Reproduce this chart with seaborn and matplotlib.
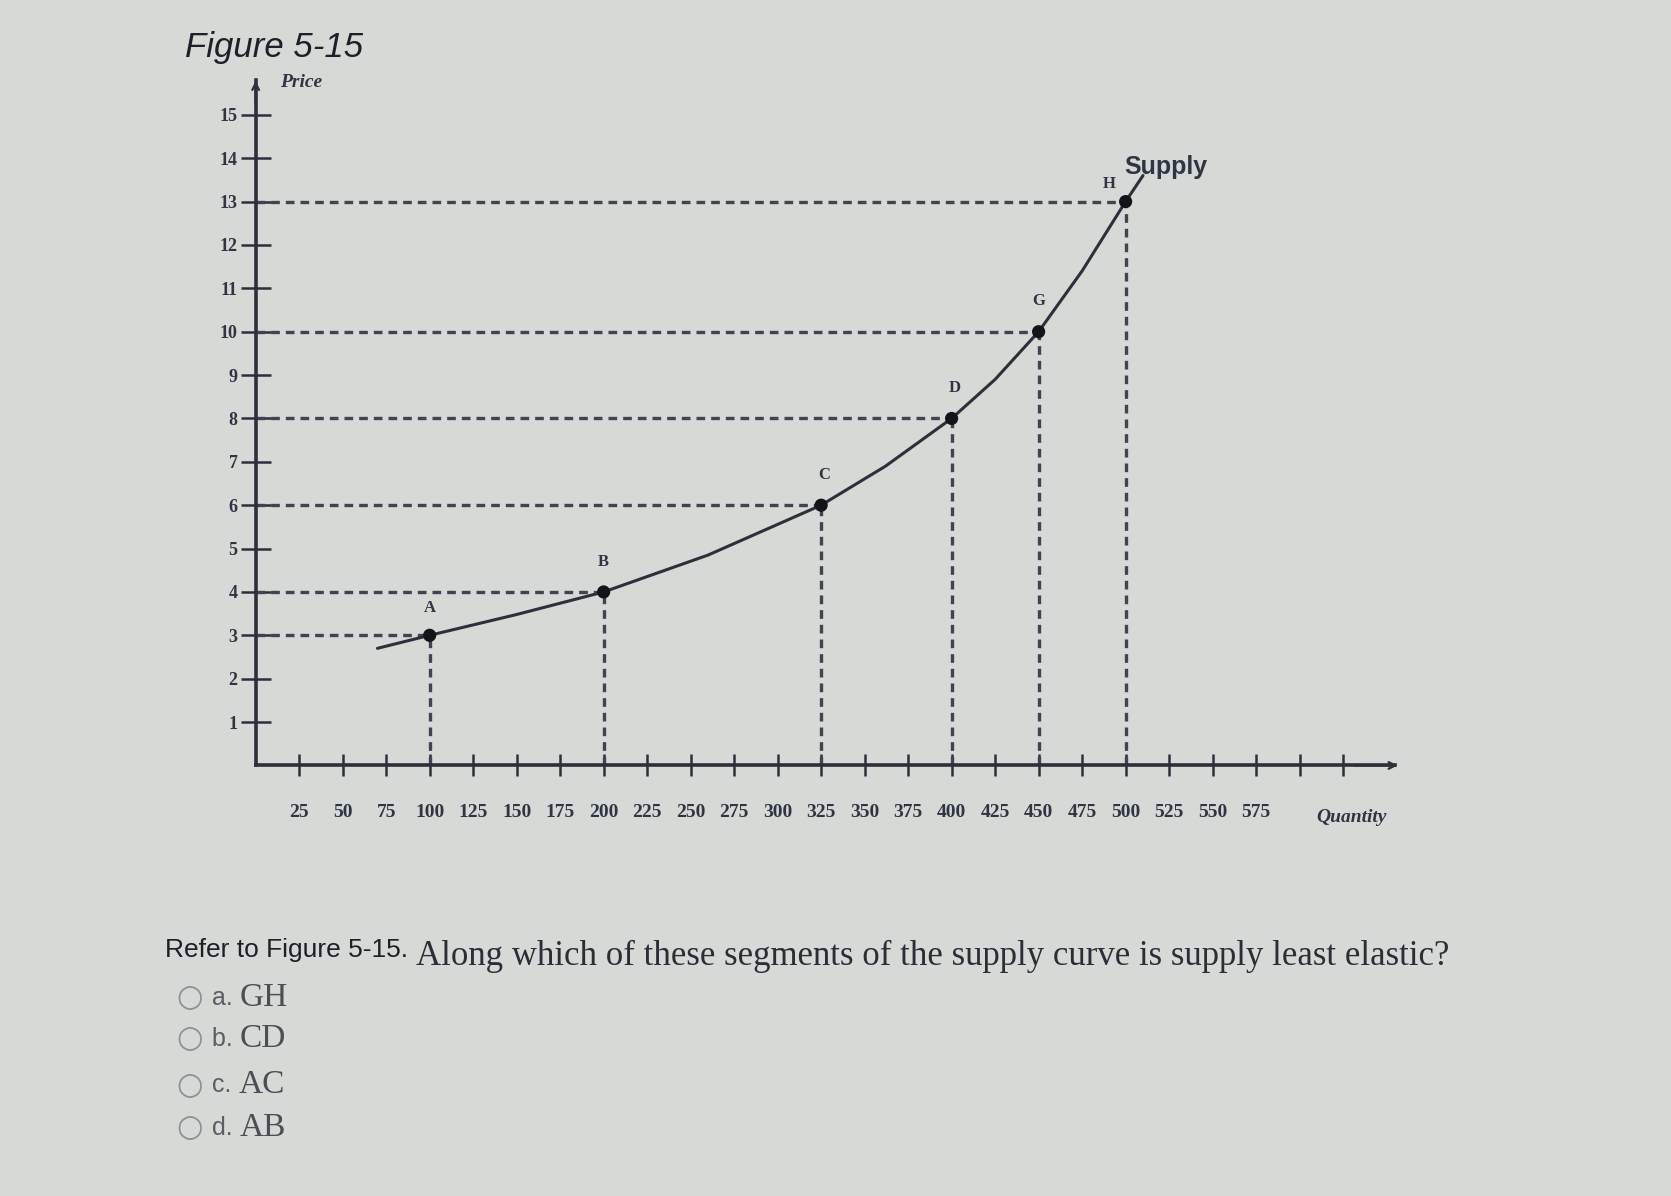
import matplotlib
matplotlib.use("Agg")
import matplotlib.pyplot as plt
import seaborn as sns
import pandas as pd

sns.set_theme(style="white")
plt.rcParams['font.family'] = ['DejaVu Sans']

# points on the supply curve
point_names = ['A', 'B', 'C', 'D', 'G', 'H']
point_qty = [100, 200, 325, 400, 450, 500]
point_price = [3, 4, 6, 8, 10, 13]

# supply curve (ends + a few read points between the dots)
curve_qty = [70, 100, 150, 200, 260, 325, 362, 400, 425, 450, 475, 500, 510]
curve_price = [2.7, 3, 3.48, 4, 4.85, 6, 6.9, 8, 8.9, 10, 11.4, 13, 13.6]

x_ticks = list(range(25, 650, 25))
x_labels = [str(v) for v in range(25, 600, 25)] + ['', '']
y_ticks = list(range(1, 16))

options = ['a. ', 'b. ', 'c. ', 'd. ']
option_answers = ['GH', 'CD', 'AC', 'AB']

bg = '#d6d9d5'
ink = '#2b303b'

fig = plt.figure(figsize=(16.71, 11.96), dpi=100, facecolor=bg)
ax = fig.add_axes([0.153, 0.360, 0.682, 0.573])
ax.set_facecolor(bg)

pts = pd.DataFrame({'name': point_names, 'q': point_qty, 'p': point_price})
curve = pd.DataFrame({'q': curve_qty, 'p': curve_price})

# guide lines
dash = (0, (2.6, 1.8))
ax.hlines(pts['p'], 0, pts['q'], colors='#3d4452', linestyles=[dash], lw=2.4, zorder=1)
ax.vlines(pts['q'], 0, pts['p'], colors='#3d4452', linestyles=[dash], lw=2.4, zorder=1)

sns.lineplot(data=curve, x='q', y='p', sort=False, color=ink, lw=2.2, ax=ax, zorder=2)
sns.scatterplot(data=pts, x='q', y='p', color='#111418', s=90, edgecolor='none', ax=ax, zorder=3)

label_offsets = {'A': (0, 14), 'B': (0, 16), 'C': (2, 16), 'D': (2, 16), 'G': (0, 16), 'H': (-12, 7)}
for _, r in pts.iterrows():
    ax.annotate(r['name'], (r['q'], r['p']), xytext=label_offsets[r['name']], textcoords='offset points',
                ha='center', va='bottom', fontsize=12, fontweight='bold', family='Liberation Serif', color='#2f3542')
ax.text(523, 13.8, 'Supply', fontsize=18, fontweight='bold', family='Liberation Sans', color='#2f3542',
        ha='center', va='center')

ax.set_xlim(0, 655)
ax.set_ylim(0, 15.8)
ax.set_xticks(x_ticks)
ax.set_xticklabels(x_labels)
ax.set_yticks(y_ticks)
ax.set_xlabel('')
ax.set_ylabel('')
for lab in ax.get_xticklabels() + ax.get_yticklabels():
    lab.set_family('Liberation Serif')
    lab.set_fontweight('bold')
    lab.set_color('#2f3542')
ax.tick_params(axis='x', bottom=True, direction='inout', length=16, width=1.8, color=ink, pad=20, labelsize=14)
ax.tick_params(axis='y', left=True, direction='inout', length=22, width=1.8, color=ink, pad=2, labelsize=13)

for s in ['top', 'right']:
    ax.spines[s].set_visible(False)
for s in ['left', 'bottom']:
    ax.spines[s].set_color(ink)
    ax.spines[s].set_linewidth(2.6)

# axis arrows
ax.annotate('', xy=(0, 15.85), xytext=(0, 15.2), xycoords='data',
            arrowprops=dict(arrowstyle='->', color=ink, lw=1.6), annotation_clip=False)
ax.annotate('', xy=(658, 0), xytext=(630, 0), xycoords='data',
            arrowprops=dict(arrowstyle='->', color=ink, lw=1.6), annotation_clip=False)

ax.text(14, 15.75, 'Price', fontsize=14, fontstyle='italic', fontweight='bold', family='Liberation Serif',
        color='#2f3542', ha='left', va='center', clip_on=False)
ax.text(630, -1.2, 'Quantity', fontsize=14, fontstyle='italic', fontweight='bold', family='Liberation Serif',
        color='#2f3542', ha='center', va='center', clip_on=False)

fig.text(0.111, 0.960, 'Figure 5-15', fontsize=25, fontstyle='italic', family='Liberation Sans',
         color='#1c2028', ha='left', va='center')

# question
q1 = fig.text(0.099, 0.206, 'Refer to Figure 5-15. ', fontsize=19, family='Liberation Sans',
              color='#1c2028', ha='left', va='center')
fig.canvas.draw()
bb = q1.get_window_extent().transformed(fig.transFigure.inverted())
fig.text(bb.x1, 0.200, 'Along which of these segments of the supply curve is supply least elastic?',
         fontsize=25, family='Liberation Serif', color='#2a2e36', ha='left', va='center')

opt_y = [0.1656, 0.1313, 0.0928, 0.0569]
for letter, ans, y in zip(options, option_answers, opt_y):
    fig.text(0.1137, y, '\u25CB', fontsize=22, color='#8e9296', ha='center', va='center')
    t = fig.text(0.127, y, letter, fontsize=18, family='Liberation Sans', color='#5a5e64', ha='left', va='center')
    fig.canvas.draw()
    b = t.get_window_extent().transformed(fig.transFigure.inverted())
    fig.text(b.x1, y, ans, fontsize=24, family='Liberation Serif', color='#4a4e55', ha='left', va='center')

fig.savefig('out.png', dpi=100, facecolor=bg)
